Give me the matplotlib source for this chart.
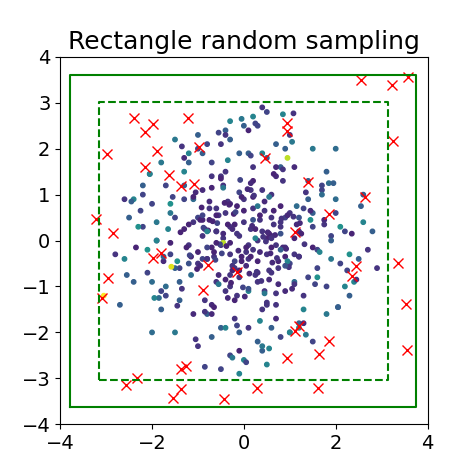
import matplotlib
matplotlib.use("Agg")
import matplotlib.pyplot as plt

pts_x = [
 -0.1,0.2,-0.3,0.4,0.1,-0.5,0.6,-0.2,0.3,0.0,-0.4,0.5,-0.6,0.7,0.2,-0.1,0.8,-0.8,0.1,-0.3,
 0.35,-0.25,0.45,-0.45,0.05,0.15,-0.15,0.55,-0.55,0.65,-0.65,0.25,-0.35,0.9,-0.9,1.0,-1.0,0.75,-0.75,0.0,
 0.3,-0.3,0.6,-0.6,0.15,-0.15,0.45,-0.45,1.1,-1.1,1.2,-1.2,0.85,-0.85,0.4,-0.4,0.2,-0.2,0.7,-0.7,
 1.3,-1.3,1.4,-1.4,1.5,-1.5,1.6,-1.6,1.7,-1.7,1.8,-1.8,1.9,-1.9,2.0,-2.0,2.1,-2.1,2.2,-2.2,
 0.1,-0.1,0.5,-0.5,0.9,-0.9,1.2,-1.2,0.3,-0.3,0.7,-0.7,1.0,-1.0,0.0,0.4,-0.4,0.8,-0.8,0.6,
 -1.1,-0.6,-1.3,-0.9,-1.6,-0.4,-1.9,-1.2,-0.7,-1.5,-0.2,-2.1,-1.0,-0.5,-1.8,-1.4,-0.8,-2.4,-0.3,-1.7,
 1.1,0.6,1.3,0.9,1.6,0.4,1.9,1.2,0.7,1.5,0.2,2.1,1.0,0.5,1.8,1.4,0.8,2.4,0.3,1.7,
 -1.2,-0.7,-1.4,-0.4,-1.7,-1.0,-2.0,-0.6,-1.5,-0.9,-2.3,-0.3,-1.1,-1.8,-0.8,-2.6,-0.5,-1.3,-2.0,-0.1,
 1.2,0.7,1.4,0.4,1.7,1.0,2.0,0.6,1.5,0.9,2.3,0.3,1.1,1.8,0.8,2.6,0.5,1.3,2.0,0.1,
 -0.2,0.3,-0.7,0.8,-1.3,1.2,-0.1,0.5,-0.9,0.0,-0.4,0.6,-1.6,1.5,0.2,-0.6,0.9,-1.0,1.1,-0.3,
 -2.5,-2.7,2.5,2.8,-2.4,2.6,-2.2,2.3,0.0,0.2,-0.3,0.5,-0.1,0.1,-2.8,2.9,-2.6,2.7,0.4,-0.5,
 1.08,-1.45,-3.05,-1.58,0.95,-0.45,0.25,-0.05,0.35,-0.25,0.55,-0.35,0.15,-0.15,0.05,-0.65,0.65,-0.75,0.75,-0.05,
 -1.25,-0.95,-1.55,-0.55,-2.05,-1.75,-0.35,-1.15,-2.35,-0.85,-1.45,-1.05,-2.55,-0.15,-1.65,-0.65,-1.85,-1.35,-0.45,-2.25,
 1.25,0.95,1.55,0.55,2.05,1.75,0.35,1.15,2.35,0.85,1.45,1.05,2.55,0.15,1.65,0.65,1.85,1.35,0.45,2.25,
 -0.05,0.25,-0.45,0.35,-0.85,0.85,-1.15,1.15,-0.25,0.45,0.05,-0.55,0.55,-0.95,0.95,-0.35,0.15,-0.75,0.75,1.45,
 -0.12,0.18,-0.38,0.42,-0.58,0.62,-0.22,0.28,-0.48,0.52,-0.68,0.72,-0.02,0.08,-0.32,0.38,-0.88,0.92,-1.02,1.08,
 -0.18,0.12,-0.42,0.48,-0.62,0.68,-0.28,0.22,-0.52,0.58,-0.78,0.82,-0.08,0.02,-0.92,0.98,-1.18,1.22,-1.38,1.32,
 -0.7,0.7,-1.0,1.0,-1.3,1.3,-1.6,1.6,-1.9,1.9,-0.4,0.4,-2.2,2.2,-0.1,0.1,-1.5,1.5,-0.8,0.8,
 -1.05,1.05,-0.55,0.55,-1.75,1.75,-0.25,0.25,-2.05,2.05,-1.35,1.35,-0.85,0.85,-2.45,2.45,-0.05,0.05,-1.95,1.95,
 -0.3,0.3,-0.6,0.6,-0.9,0.9,-1.2,1.2,-0.1,0.1,-0.5,0.5,-0.8,0.8,-1.1,1.1,-0.2,0.2,-0.7,0.7,
]
pts_y = [
 0.1,-0.2,0.3,0.2,-0.4,-0.1,0.5,-0.6,0.0,0.4,0.6,-0.3,0.2,-0.1,0.7,-0.8,0.3,-0.4,-0.1,-0.3,
 0.45,-0.55,0.65,0.05,-0.25,0.25,0.15,-0.65,0.55,0.35,-0.35,-0.75,0.85,-0.15,0.1,0.6,-0.5,-0.6,0.7,0.9,
 -0.9,-1.0,1.0,-0.9,1.1,-1.2,-1.1,1.2,-0.3,0.4,0.2,-0.1,1.3,-1.3,-1.5,1.5,1.6,-1.7,-1.4,1.4,
 0.7,0.9,-0.8,-0.6,0.3,0.5,-0.2,-0.3,1.1,1.2,-1.0,-1.1,0.1,0.0,0.6,0.8,-0.5,-0.7,0.2,0.3,
 1.9,-2.0,1.8,-1.9,2.0,1.9,-1.8,1.7,-2.2,2.2,2.1,-2.1,-2.0,2.3,2.5,-2.4,2.4,1.6,-1.6,-1.9,
 0.9,0.2,1.5,-0.4,0.8,-1.1,0.4,1.9,-1.6,-0.6,-1.3,-0.2,0.5,1.4,1.7,-1.3,2.1,0.9,0.8,-1.0,
 -0.9,0.1,-1.5,0.5,-0.8,1.1,-0.4,-1.9,1.6,0.6,1.3,0.3,-0.5,-1.4,-1.6,1.3,-2.1,-0.9,-0.7,1.0,
 -0.5,-1.4,-0.9,-1.9,-1.2,-2.3,-0.9,0.7,-2.0,1.1,0.3,-2.5,-1.6,-1.5,-0.4,-0.4,-2.8,1.8,-2.0,-2.4,
 0.5,1.4,0.9,1.9,1.2,2.3,0.9,-0.7,2.0,-1.1,-0.3,2.5,1.6,1.5,0.4,0.4,2.8,-1.8,2.0,2.4,
 0.35,-0.45,-0.15,0.75,0.25,-0.35,-0.65,0.05,0.45,0.65,-0.85,-0.15,-0.05,-0.15,0.95,0.55,-0.35,-0.25,0.05,-0.05,
 0.5,-1.4,-0.4,0.2,-0.9,1.0,1.2,-1.2,-2.6,2.7,2.6,-2.7,-2.9,-1.1,-0.3,-0.6,0.9,-0.2,2.9,2.1,
 2.77,-1.42,-1.2,-0.57,1.8,-0.05,0.25,-0.45,0.55,-0.65,0.15,0.35,-0.35,0.75,-0.15,-0.25,0.65,0.45,-0.45,0.95,
 -0.15,0.45,0.95,-0.95,1.45,-0.45,1.75,-0.75,-0.15,-1.55,-0.45,1.05,-0.75,-1.85,0.25,-1.45,-1.25,-1.05,1.15,0.65,
 0.15,-0.45,-0.95,0.95,-1.45,0.45,-1.75,0.75,0.15,1.55,0.45,-1.05,0.75,1.85,-0.25,1.45,1.25,1.05,-1.15,-0.65,
 -0.35,0.05,0.15,-0.25,0.25,-0.15,-0.35,0.35,0.25,0.85,-0.55,-0.75,-0.85,-0.55,0.55,-1.25,1.25,0.85,-0.95,0.65,
 -0.22,0.32,-0.12,0.08,0.38,-0.48,0.58,-0.68,-0.28,0.18,0.42,-0.38,-1.02,1.12,0.78,-0.88,0.28,-0.18,-0.62,0.52,
 0.62,-0.72,0.82,-0.02,-0.42,0.12,-0.92,0.98,-0.08,-0.28,0.22,0.48,1.32,-1.22,0.72,-0.58,-0.32,0.38,0.18,-0.08,
 1.7,-1.7,2.0,-2.0,1.2,-1.2,0.6,-0.6,0.0,0.0,2.3,-2.3,1.0,-1.0,1.9,-1.9,2.2,-2.2,0.2,-0.2,
 -2.15,2.15,2.35,-2.35,-0.35,0.35,-2.55,2.55,1.45,-1.45,2.05,-2.05,-2.75,2.75,0.85,-0.85,2.65,-2.65,-1.25,1.25,
 -0.75,0.75,-0.05,0.05,0.55,-0.55,0.35,-0.35,1.05,-1.05,1.35,-1.35,-0.15,0.15,0.95,-0.95,-0.45,0.45,1.15,-1.15,
]
pts_c = [0.15]*60 + [0.2]*20 + [0.3]*20 + [0.35,0.15,0.45,0.2,0.5,0.15,0.4,0.45,0.12,0.3,0.1,0.5,0.2,0.15,0.4,0.3,0.2,0.45,0.12,0.35]*2 \
      + [0.25,0.12,0.3,0.45,0.2,0.15,0.35,0.15,0.4,0.12,0.5,0.2,0.12,0.3,0.15,0.45,0.2,0.12,0.35,0.1]*2 \
      + [0.1]*20 + [0.3]*8 + [0.45]*6 + [0.15]*8 + [1.0,0.95,0.9,0.9] + [0.1]*16 \
      + [0.2,0.4,0.3,0.12,0.45,0.35,0.1,0.15,0.5,0.12,0.3,0.2,0.45,0.1,0.35,0.15,0.4,0.2,0.1,0.45]*2 + [0.12]*20 \
      + [0.1,0.15,0.2,0.12]*10 + [0.2,0.45,0.3,0.15,0.4]*8 + [0.1,0.15,0.2,0.25]*5

rej_x = [-2.40,-2.97,-1.98,-2.15,-1.22,-0.97,-1.89,-2.16,-1.63,-1.38,-1.08,-3.22,-2.85,
         2.54,3.23,3.58,0.95,0.95,3.25,0.45,1.39,2.63,1.86,1.12,
         -1.97,-1.80,-2.95,-3.10,-0.79,-0.16,-0.90,-2.57,-2.32,-1.37,-1.27,-1.36,-1.55,-0.44,
         3.36,2.45,2.36,3.52,1.19,1.12,1.86,1.63,0.95,3.56,0.28,1.62]
rej_y = [2.66,1.88,2.54,2.36,2.66,2.04,1.96,1.60,1.43,1.19,1.24,0.46,0.16,
         3.50,3.39,3.56,2.55,2.39,2.17,1.80,1.28,0.94,0.58,0.18,
         -0.39,-0.27,-0.82,-1.25,-0.53,-0.68,-1.08,-3.14,-3.0,-2.79,-2.73,-3.24,-3.42,-3.45,
         -0.48,-0.55,-0.77,-1.39,-1.86,-1.98,-2.18,-2.46,-2.55,-2.39,-3.22,-3.21]

outer_box = [-3.78, 3.74, -3.62, 3.61]
inner_box = [-3.15, 3.13, -3.03, 3.01]

fig = plt.figure(figsize=(4.74, 4.74), dpi=100)
ax = fig.add_axes([0.127, 0.105, 0.775, 0.775])
n = min(len(pts_x), len(pts_y), len(pts_c))
ax.scatter(pts_x[:n], pts_y[:n], c=pts_c[:n], cmap="viridis", vmin=0, vmax=1, s=10)
ax.plot(rej_x, rej_y, "rx", markersize=7)
x0, x1, y0, y1 = outer_box
ax.plot([x0, x1, x1, x0, x0], [y0, y0, y1, y1, y0], color="green", lw=1.5)
x0, x1, y0, y1 = inner_box
ax.plot([x0, x1, x1, x0, x0], [y0, y0, y1, y1, y0], color="green", lw=1.5, ls="--")
ax.set_xlim(-4, 4)
ax.set_ylim(-4, 4)
ax.set_xticks([-4, -2, 0, 2, 4])
ax.set_yticks([-4, -3, -2, -1, 0, 1, 2, 3, 4])
ax.tick_params(labelsize=14)
ax.set_title("Rectangle random sampling", fontsize=18)
fig.savefig("out.png", dpi=100)
